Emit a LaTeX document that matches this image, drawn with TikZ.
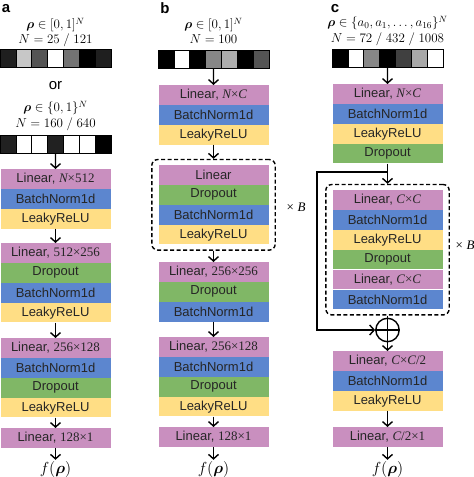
\documentclass[tikz,border=0pt]{standalone}
\usepackage{fix-cm}
\usepackage{amsmath,bm}
\usepackage{fontspec}
\setmainfont{Liberation Sans}
\newfontfamily\tnr{Liberation Serif}
\usetikzlibrary{arrows.meta,positioning,fit}
\definecolor{linc}{RGB}{201,143,191}
\definecolor{bnc}{RGB}{92,134,207}
\definecolor{lrc}{RGB}{255,222,133}
\definecolor{dpc}{RGB}{128,183,102}
\newcommand{\tmi}[1]{{\tnr\itshape #1}}
\newcommand{\tmr}[1]{{\tnr #1}}
\begin{document}
\begin{tikzpicture}[x=1pt,y=-1pt,font=\fontsize{13}{15}\selectfont,
	blk/.style={minimum width=110pt,minimum height=19.5pt,inner sep=0pt,text=black!85,anchor=north},
	lin/.style={blk,fill=linc},bn/.style={blk,fill=bnc},lr/.style={blk,fill=lrc},dp/.style={blk,fill=dpc},
	cell/.style={draw,line width=0.7pt,minimum width=15.86pt,minimum height=18pt,inner sep=0pt},
	arr/.style={line width=1.4pt,-{Straight Barb[length=4.5pt,width=10pt]}},
	rep/.style={draw,line width=1.4pt,dash pattern=on 4pt off 2.5pt,rounded corners=6pt,inner ysep=5.5pt,inner xsep=6.5pt},
	panel/.style={font=\fontsize{15}{17}\selectfont\bfseries},
	res/.style={font=\fontsize{16}{18}\selectfont,inner sep=1pt}]
		\useasboundingbox (0,0) rectangle (474,477);
		\node[panel] (ta) at (6,9) {a};
		\node (ha1) at (55.5,25) {$\bm{\rho}\in[0,1]^N$};
		\node (ha2) at (55.5,40) {$N=25\ /\ 121$};
		\foreach \g [count=\i] in {12,78,33,100,45,0,12}
			\node[cell,fill=white!\g!black] (pa\i) at (\i*15.86-7.93,58) {};
		\node[font=\fontsize{15}{17}\selectfont] (oa) at (55.5,86) {or};
		\node (ha3) at (55.5,108) {$\bm{\rho}\in\{0,1\}^N$};
		\node (ha4) at (55.5,124) {$N=160\ /\ 640$};
		\foreach \g [count=\i] in {13,100,100,13,100,100,0}
			\node[cell,fill=white!\g!black] (qa\i) at (\i*15.86-7.93,144.5) {};
		\node[lin] (a1) at (55.5,169) {Linear, \tmi{N}\tmr{×512}};
		\node[bn,below=0pt of a1] (a2) {BatchNorm1d};
		\node[lr,below=0pt of a2] (a3) {LeakyReLU};
		\node[lin] (a4) at (55.5,243) {Linear, \tmr{512×256}};
		\node[dp,below=0pt of a4] (a5) {Dropout};
		\node[bn,below=0pt of a5] (a6) {BatchNorm1d};
		\node[lr,below=0pt of a6] (a7) {LeakyReLU};
		\node[lin] (a8) at (55.5,338) {Linear, \tmr{256×128}};
		\node[bn,below=0pt of a8] (a9) {BatchNorm1d};
		\node[dp,below=0pt of a9] (a10) {Dropout};
		\node[lr,below=0pt of a10] (a11) {LeakyReLU};
		\node[lin] (a12) at (55.5,428) {Linear, \tmr{128×1}};
		\node[res] (fa) at (55.5,469) {$f(\bm{\rho})$};
		\draw[arr] (qa4.south) -- (a1.north);
		\draw[arr] (a3) -- (a4);
		\draw[arr] (a7) -- (a8);
		\draw[arr] (a11) -- (a12);
		\draw[arr] (a12) -- (fa);
		\node[panel] (tb) at (165,8) {b};
		\node (hb1) at (213.5,25) {$\bm{\rho}\in[0,1]^N$};
		\node (hb2) at (213.5,39) {$N=100$};
		\foreach \g [count=\i] in {0,100,0,53,68,0,33}
			\node[cell,fill=white!\g!black] (pb\i) at (150.07+\i*15.86,59) {};
		\node[lin] (b1) at (213.5,85) {Linear, \tmi{N}\tmr{×}\tmi{C}};
		\node[bn,below=0pt of b1] (b2) {BatchNorm1d};
		\node[lr,below=0pt of b2] (b3) {LeakyReLU};
		\node[lin] (b4) at (213.5,165) {Linear};
		\node[dp,below=0pt of b4] (b5) {Dropout};
		\node[bn,below=0pt of b5] (b6) {BatchNorm1d};
		\node[lr,below=0pt of b6] (b7) {LeakyReLU};
		\node[rep,fit=(b4)(b7)] (bx) {};
		\node (xb) at (296,207) {\tmr{×} \tmi{B}};
		\node[lin] (b8) at (213.5,262) {Linear, \tmr{256×256}};
		\node[dp,below=0pt of b8] (b9) {Dropout};
		\node[bn,below=0pt of b9] (b10) {BatchNorm1d};
		\node[lin] (b11) at (213.5,337) {Linear, \tmr{256×128}};
		\node[bn,below=0pt of b11] (b12) {BatchNorm1d};
		\node[dp,below=0pt of b12] (b13) {Dropout};
		\node[lr,below=0pt of b13] (b14) {LeakyReLU};
		\node[lin] (b15) at (213.5,427) {Linear, \tmr{128×1}};
		\node[res] (fb) at (213.5,469) {$f(\bm{\rho})$};
		\draw[arr] (pb4.south) -- (b1.north);
		\draw[arr] (b3) -- (bx);
		\draw[arr] (bx) -- (b8);
		\draw[arr] (b10) -- (b11);
		\draw[arr] (b14) -- (b15);
		\draw[arr] (b15) -- (fb);
		\node[panel] (tc) at (335,9) {c};
		\node (hc1) at (387.5,23) {$\bm{\rho}\in\{a_0,a_1,\ldots,a_{16}\}^N$};
		\node (hc2) at (387.5,39) {$N=72\ /\ 432\ /\ 1008$};
		\foreach \g [count=\i] in {0,100,53,0,25,66,100}
			\node[cell,fill=white!\g!black] (pc\i) at (324.07+\i*15.86,58) {};
		\node[lin] (c1) at (387.5,84) {Linear, \tmi{N}\tmr{×}\tmi{C}};
		\node[bn,below=0pt of c1] (c2) {BatchNorm1d};
		\node[lr,below=0pt of c2] (c3) {LeakyReLU};
		\node[dp,below=0pt of c3] (c4) {Dropout};
		\node[lin] (c5) at (387.5,190) {Linear, \tmi{C}\tmr{×}\tmi{C}};
		\node[bn,below=0pt of c5] (c6) {BatchNorm1d};
		\node[lr,below=0pt of c6] (c7) {LeakyReLU};
		\node[dp,below=0pt of c7] (c8) {Dropout};
		\node[lin,below=0pt of c8] (c9) {Linear, \tmi{C}\tmr{×}\tmi{C}};
		\node[bn,below=0pt of c9] (c10) {BatchNorm1d};
		\node[rep,fit=(c5)(c10)] (cx) {};
		\node (xc) at (465,245) {\tmr{×} \tmi{B}};
		\node[draw,circle,line width=1.4pt,minimum size=23.4pt,inner sep=0pt] (pl) at (387.5,330) {};
		\draw[line width=1.2pt] (pl.north) -- (pl.south) (pl.west) -- (pl.east);
		\node[lin] (c11) at (387.5,351) {Linear, \tmi{C}\tmr{×}\tmi{C}\tmr{/2}};
		\node[bn,below=0pt of c11] (c12) {BatchNorm1d};
		\node[lr,below=0pt of c12] (c13) {LeakyReLU};
		\node[lin] (c14) at (387.5,427) {Linear, \tmi{C}\tmr{/2×1}};
		\node[res] (fc) at (387.5,469) {$f(\bm{\rho})$};
		\coordinate (sp) at (387.5,172);
		\coordinate (sl) at (317,172);
		\draw[arr] (pc4.south) -- (c1.north);
		\draw[arr] (c4) -- (cx);
		\draw[arr] (sp) -- (sl) |- (pl.west);
		\draw[line width=1.4pt] (cx) -- (pl);
		\draw[arr] (pl) -- (c11);
		\draw[arr] (c13) -- (c14);
		\draw[arr] (c14) -- (fc);
\end{tikzpicture}
\end{document}
